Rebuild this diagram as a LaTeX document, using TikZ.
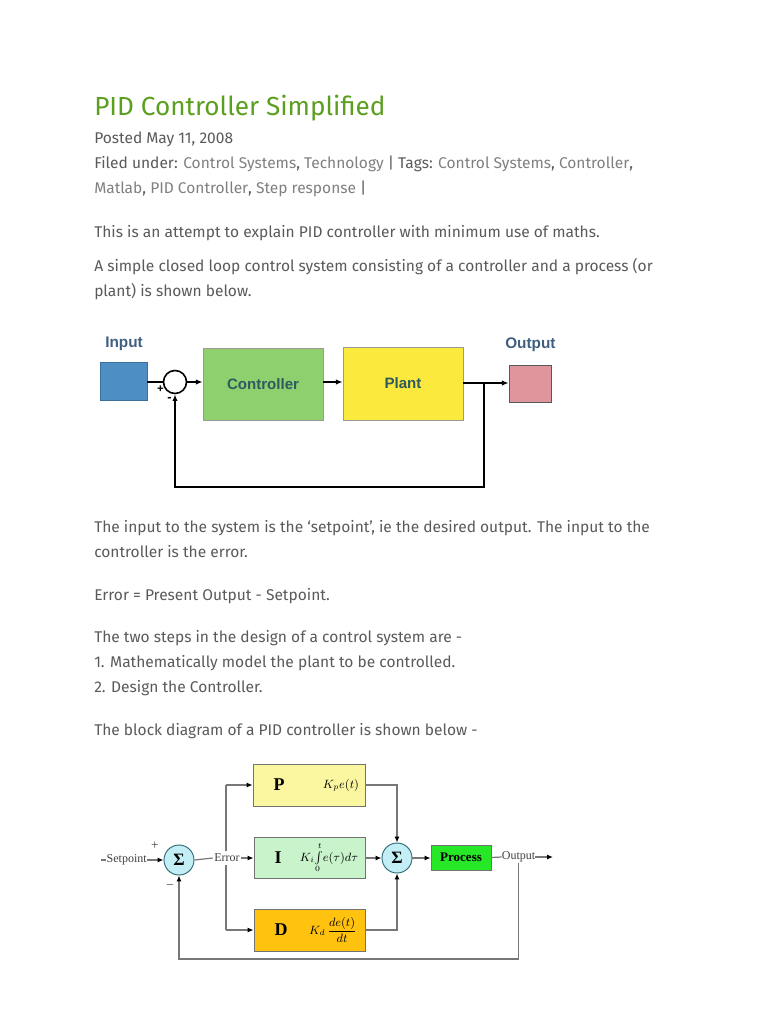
\documentclass[tikz,border=0pt]{standalone}
\usepackage{amsmath}
\usepackage{fontspec}
\setmainfont{Fira Sans}
\newfontfamily\diafont{Liberation Sans}
\newfontfamily\serifont{Liberation Serif}
\usetikzlibrary{arrows.meta}
\definecolor{titlegreen}{HTML}{5B9F1F}
\definecolor{txt}{HTML}{5A5A5A}
\definecolor{linkc}{HTML}{808080}
\definecolor{inblue}{HTML}{4D8FC4}
\definecolor{inblueb}{HTML}{3A6F9A}
\definecolor{ctrlgreen}{HTML}{8FD06E}
\definecolor{plantyel}{HTML}{FBE93D}
\definecolor{outpink}{HTML}{E0949B}
\definecolor{lblblue}{HTML}{3F6080}
\definecolor{boxtxt}{HTML}{2F5A60}
\definecolor{pfill}{HTML}{FBF7A0}
\definecolor{ifill}{HTML}{C9F3CB}
\definecolor{dfill}{HTML}{FFC20E}
\definecolor{procfill}{HTML}{27E827}
\definecolor{sumfill}{HTML}{C4EEF5}
\definecolor{sumline}{HTML}{2A6A75}
\definecolor{wire}{HTML}{777777}
\newcommand\lnk[1]{\textcolor{linkc}{#1}}
\begin{document}
\begin{tikzpicture}[x=0.75pt,y=-0.75pt,
  body/.style={anchor=base west,inner sep=0pt,text=txt,font=\fontsize{11.65}{13}\selectfont},
  title/.style={anchor=base west,inner sep=0pt,text=titlegreen,font=\fontsize{19.6}{22}\selectfont},
  blockA/.style={draw=gray!80,line width=0.6pt,minimum width=120*0.75pt,minimum height=72*0.75pt,
     text=boxtxt,font=\diafont\bfseries\fontsize{11.3}{13}\selectfont},
  lblA/.style={text=lblblue,font=\diafont\bfseries\fontsize{11.5}{13}\selectfont,inner sep=0pt},
  wireA/.style={line width=1.7pt,black},
  arrA/.style={wireA,-{Latex[length=5pt,width=4pt]}},
  blockB/.style={draw=gray!90!black,line width=0.6pt,minimum width=111*0.75pt,minimum height=42*0.75pt,inner sep=0pt},
  sumB/.style={circle,draw=sumline,fill=sumfill,line width=0.7pt,minimum size=30*0.75pt,inner sep=0pt,
     font=\serifont\bfseries\fontsize{13}{14}\selectfont},
  txtB/.style={font=\serifont\fontsize{9}{11}\selectfont,inner sep=0pt,text=black!75},
  wireB/.style={line width=0.9pt,wire},
  arrB/.style={wireB,-{Latex[length=4.5pt,width=3.8pt,color=black]}},
  bigB/.style={font=\serifont\bfseries\fontsize{13.5}{15}\selectfont,inner sep=0pt},
  mathB/.style={font=\fontsize{9}{11}\selectfont,inner sep=0pt}
]
\useasboundingbox[fill=white] (0,0) rectangle (768,1024);

% ---------- text ----------
\node[title] (t0) at (94,115) {PID Controller Simplified};
\node[body] (t1) at (94,143) {Posted May 11, 2008};
\node[body] (t2) at (94,168) {Filed under: \lnk{Control Systems}, \lnk{Technology} | Tags: \lnk{Control Systems}, \lnk{Controller},};
\node[body] (t3) at (94,193) {\lnk{Matlab}, \lnk{PID Controller}, \lnk{Step response} |};
\node[body] (t4) at (94,237) {This is an attempt to explain PID controller with minimum use of maths.};
\node[body] (t5) at (94,271) {A simple closed loop control system consisting of a controller and a process (or};
\node[body] (t6) at (94,296) {plant) is shown below.};
\node[body] (t7) at (94,532) {The input to the system is the ‘setpoint’, ie the desired output. The input to the};
\node[body] (t8) at (94,557) {controller is the error.};
\node[body] (t9) at (94,600) {Error = Present Output - Setpoint.};
\node[body] (t10) at (94,642) {The two steps in the design of a control system are -};
\node[body] (t11) at (94,667) {1. Mathematically model the plant to be controlled.};
\node[body] (t12) at (94,692) {2. Design the Controller.};
\node[body] (t13) at (94,735) {The block diagram of a PID controller is shown below -};

% ---------- diagram 1 ----------
\node[lblA,anchor=base west] (inl) at (105,347) {Input};
\node[lblA,anchor=base west] (outl) at (505,348) {Output};
\node[draw=inblueb,fill=inblue,line width=0.6pt,minimum width=47*0.75pt,minimum height=38*0.75pt,inner sep=0pt] (inb) at (123.5,381) {};
\node[circle,draw=black,line width=1.2pt,fill=white,minimum size=23*0.75pt,inner sep=0pt] (s1) at (175,382) {};
\node[blockA,fill=ctrlgreen] (ctrl) at (263,384) {Controller};
\node[blockA,fill=plantyel,minimum height=73*0.75pt] (plant) at (403,383.5) {Plant};
\node[draw=gray!70!black,fill=outpink,line width=0.6pt,minimum width=42*0.75pt,minimum height=37*0.75pt,inner sep=0pt] (outb) at (530,383.5) {};
\node[font=\diafont\bfseries\fontsize{8.5}{9}\selectfont,inner sep=0pt] (plus1) at (160.5,389.5) {+};
\node[font=\diafont\bfseries\fontsize{9.5}{9}\selectfont,inner sep=0pt] (minus1) at (169.5,399) {-};

\draw[wireA] (inb.east |- s1.west) -- (s1.west);
\draw[arrA] (s1.east) -- (s1.east -| ctrl.west);
\draw[arrA] (ctrl.east |- s1.east) -- (s1.east -| plant.west);
\coordinate (br1) at (484,383);
\coordinate (fb1) at (484,487);
\draw[arrA] (plant.east |- br1) -- (br1 -| outb.west);
\draw[arrA] (br1) -- (fb1) -| (s1.south);

% ---------- diagram 2 ----------
\node[sumB] (s2) at (179,860) {Σ};
\node[blockB,fill=pfill,minimum width=112*0.75pt] (pb) at (309,785) {};
\node[blockB,fill=ifill,minimum height=41*0.75pt] (ib) at (309.5,857.5) {};
\node[blockB,fill=dfill] (db) at (309.5,930) {};
\node[sumB] (s3) at (397,858) {Σ};
\node[draw=gray!90!black,fill=procfill,line width=0.6pt,minimum width=60*0.75pt,minimum height=25*0.75pt,inner sep=0pt,
      font=\serifont\bfseries\fontsize{9.8}{11}\selectfont] (proc) at (461,857.5) {Process};

\node[bigB] (pl) at (279,785) {P};
\node[bigB] (il) at (278,858) {I};
\node[bigB] (dl) at (281,930) {D};
\node[mathB] (pm) at (341,785) {$K_p e(t)$};
\node[mathB,font=\fontsize{8.7}{10}\selectfont] (im) at (329,858) {$K_i\!\int\limits_0^t\! e(\tau)d\tau$};
\node[mathB] (dm) at (333,930) {$K_d\,\dfrac{de(t)}{dt}$};

\coordinate (bt) at (226,785);
\coordinate (bb) at (226,930);
\draw[wireB] (bt) -- (bb);
\node[txtB,fill=white,inner xsep=1pt,inner ysep=2pt] (err) at (227,858) {Error};
\draw[arrB] (bt) -- (pb.west);
\draw[arrB] (bb) -- (db.west);
\draw[wireB] (s2.east) -- (err.west);
\draw[arrB] (err.east) -- (err.east -| ib.west);

\node[txtB,anchor=east] (sp) at (147,860) {Setpoint};
\coordinate (spl) at (101,860);
\draw[wireB] (spl) -- (sp.west);
\draw[arrB] (sp.east) -- (s2.west);
\node[txtB,font=\serifont\fontsize{10}{11}\selectfont] (plus2) at (155,846) {+};
\node[txtB,font=\serifont\fontsize{10}{11}\selectfont] (minus2) at (170,887) {−};

\draw[arrB] (pb.east) -| (s3.north);
\draw[arrB] (ib.east |- s3.west) -- (s3.west);
\draw[arrB] (db.east) -| (s3.south);
\draw[arrB] (s3.east) -- (s3.east -| proc.west);

\node[txtB] (outt) at (518.5,857) {Output};
\draw[wireB] (proc.east) -- (outt.west);
\coordinate (oend) at (553,857);
\draw[arrB] (outt.east) -- (oend);
\coordinate (fb2) at (518.5,959);
\draw[arrB] (outt.south) -- (fb2) -| (s2.south);
\end{tikzpicture}
\end{document}
